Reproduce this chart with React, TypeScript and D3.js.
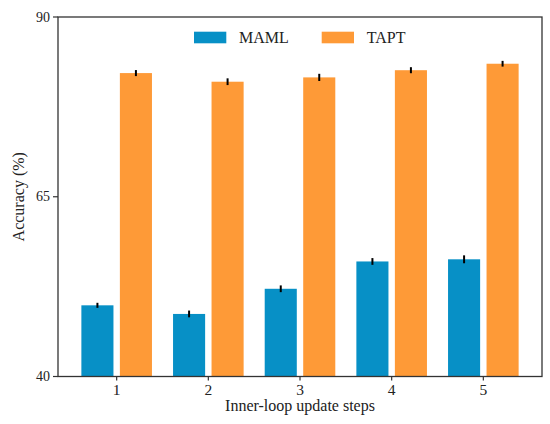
import React from "react";
import * as d3 from "d3";

const categories = [1, 2, 3, 4, 5];
const mamlValues = [49.9, 48.7, 52.2, 56.0, 56.3];
const mamlErrors = [0.35, 0.47, 0.47, 0.47, 0.55];
const taptValues = [82.2, 81.0, 81.6, 82.6, 83.5];
const taptErrors = [0.42, 0.47, 0.5, 0.42, 0.4];
const yTicks = [40, 65, 90];
const seriesNames = ["MAML", "TAPT"];
const seriesColors = ["#0790C6", "#FE9A37"];

const W = 550;
const H = 424;
const left = 58;
const right = 542;
const top = 17;
const bottom = 376.5;

export default function App() {
  const x = d3.scaleLinear().domain([0.36, 5.64]).range([left, right]);
  const y = d3.scaleLinear().domain([40, 90]).range([bottom, top]);
  const step = x(2) - x(1);
  const barW = 0.35 * step;
  const off = 0.21 * step;
  const font = "'Liberation Serif', 'Times New Roman', serif";
  const series = [
    { name: seriesNames[0], values: mamlValues, errors: mamlErrors, color: seriesColors[0], dx: -off },
    { name: seriesNames[1], values: taptValues, errors: taptErrors, color: seriesColors[1], dx: off },
  ];
  const axisColor = "#333";
  return (
    <svg width={W} height={H} style={{ position: "absolute", left: 0, top: 0, background: "#fff" }} fontFamily={font}>
      {series.map((s) =>
        categories.map((c, i) => (
          <g key={s.name + c}>
            <rect
              x={x(c) + s.dx - barW / 2}
              y={y(s.values[i])}
              width={barW}
              height={y(40) - y(s.values[i])}
              fill={s.color}
            />
            <line
              x1={x(c) + s.dx}
              x2={x(c) + s.dx}
              y1={y(s.values[i] - s.errors[i])}
              y2={y(s.values[i] + s.errors[i])}
              stroke="#000"
              strokeWidth={2}
            />
          </g>
        ))
      )}
      <rect x={left} y={top} width={right - left} height={bottom - top} fill="none" stroke={axisColor} strokeWidth={1.3} />
      {yTicks.map((t) => (
        <g key={t}>
          <line x1={left - 5} x2={left} y1={y(t)} y2={y(t)} stroke={axisColor} strokeWidth={1.2} />
          <text x={left - 8} y={y(t)} dy="0.33em" textAnchor="end" fontSize={14} fill="#222">
            {t}
          </text>
        </g>
      ))}
      {categories.map((c) => (
        <g key={c}>
          <line x1={x(c)} x2={x(c)} y1={bottom} y2={bottom + 4} stroke={axisColor} strokeWidth={1.2} />
          <text x={x(c)} y={bottom + 18.5} textAnchor="middle" fontSize={15.5} fill="#222">
            {c}
          </text>
        </g>
      ))}
      <text x={(left + right) / 2} y={411} textAnchor="middle" fontSize={16} fill="#222">
        Inner-loop update steps
      </text>
      <text
        transform={`translate(24, ${(top + bottom) / 2}) rotate(-90)`}
        textAnchor="middle"
        fontSize={16}
        fill="#222"
      >
        Accuracy (%)
      </text>
      {series.map((s, i) => (
        <g key={s.name} transform={`translate(${194 + i * 127.7}, 31.7)`}>
          <rect x={0} y={0} width={32.3} height={11.6} fill={s.color} />
          <text x={45} y={11.4} fontSize={16} fill="#222">
            {s.name}
          </text>
        </g>
      ))}
    </svg>
  );
}
